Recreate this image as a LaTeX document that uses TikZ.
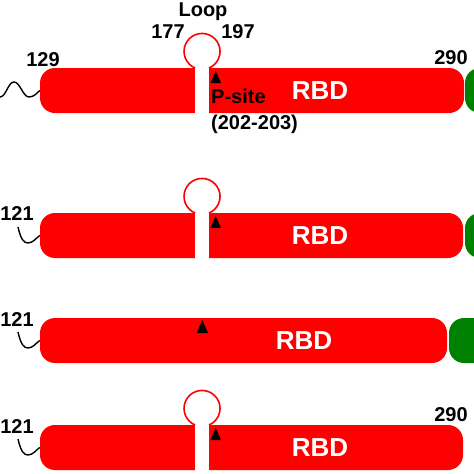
\documentclass[tikz,border=0pt]{standalone}
\usepackage{fontspec}
\setmainfont{Liberation Sans}
\definecolor{barred}{RGB}{255,0,0}
\definecolor{dgreen}{RGB}{0,128,0}
\begin{document}
\begin{tikzpicture}[x=1pt,y=-1pt,
  bar/.style={fill=barred, rounded corners=15pt, inner sep=0pt, minimum height=45pt},
  lab/.style={font=\bfseries\fontsize{20}{20}\selectfont, inner sep=0pt},
  rbd/.style={font=\bfseries\fontsize{26}{26}\selectfont, text=white, inner sep=0pt},
  wire/.style={draw=black, line width=1.4pt},
  loopline/.style={draw=barred, line width=1.6pt},
  tri/.style={fill=black}]
\useasboundingbox (0,0) rectangle (474,474);
\clip (0,0) rectangle (474,474);
% green domains
\fill[dgreen, rounded corners=15pt] (465,68) rectangle (520,113);
\fill[dgreen, rounded corners=15pt] (465,213) rectangle (520,258);
\fill[dgreen, rounded corners=15pt] (449,318) rectangle (505,363);
% bars
\node[bar, minimum width=424pt] (b1) at (252,90.5) {};
\node[bar, minimum width=423pt] (b2) at (251.5,235.5) {};
\node[bar, minimum width=407pt] (b3) at (243.5,340.5) {};
\node[bar, minimum width=423pt] (b4) at (251.5,447.5) {};
% gaps
\fill[white] (195,66) rectangle (209,115);
\fill[white] (195,211) rectangle (209,260);
\fill[white] (195,423) rectangle (209,472);
% loops
\draw[loopline] (195,68) arc[start angle=113, end angle=427, radius=18];
\draw[loopline] (195,213) arc[start angle=113, end angle=427, radius=18];
\draw[loopline] (195,425) arc[start angle=113, end angle=427, radius=18];
% P-site triangles
\fill[tri] (210.5,83) -- (221,83) -- (215.7,71) -- cycle;
\fill[tri] (210.5,228) -- (221,228) -- (215.7,216) -- cycle;
\fill[tri] (196.5,333) -- (208,333) -- (202.3,320) -- cycle;
\fill[tri] (210.5,440) -- (221,440) -- (215.7,428) -- cycle;
% N-terminal tails
\coordinate (w1) at (0,97);
\coordinate (w2) at (18,227);
\coordinate (w3) at (18,332);
\coordinate (w4) at (18,439);
\draw[wire] (w1) .. controls (6,97) and (8,82) .. (14,82) .. controls (20,82) and (23,97) .. (29,97) .. controls (34,97) and (37,93) .. (b1.west);
\draw[wire] (w2) .. controls (21,240) and (24,243) .. (28,243) .. controls (33,243) and (36,238) .. (b2.west);
\draw[wire] (w3) .. controls (21,345) and (24,348) .. (28,348) .. controls (33,348) and (36,343) .. (b3.west);
\draw[wire] (w4) .. controls (21,452) and (24,455) .. (28,455) .. controls (33,455) and (36,450) .. (b4.west);
% labels
\node[lab] (loop) at (203,12) {Loop};
\node[lab] (n177) at (168,32) {177};
\node[lab] (n197) at (238,32) {197};
\node[lab] (n129) at (43,60) {129};
\node[lab] (n290a) at (451,58) {290};
\node[lab, anchor=west] (psite) at (211,96) {P-site};
\node[lab, anchor=west] (pnum) at (211,124) {(202-203)};
\node[lab] (n121b) at (17,214) {121};
\node[lab] (n121c) at (17,320) {121};
\node[lab] (n121d) at (17,427) {121};
\node[lab] (n290d) at (451,415) {290};
\node[rbd] (r1) at (320,90.5) {RBD};
\node[rbd] (r2) at (320,235.5) {RBD};
\node[rbd] (r3) at (304,340.5) {RBD};
\node[rbd] (r4) at (320,447.5) {RBD};
\end{tikzpicture}
\end{document}
